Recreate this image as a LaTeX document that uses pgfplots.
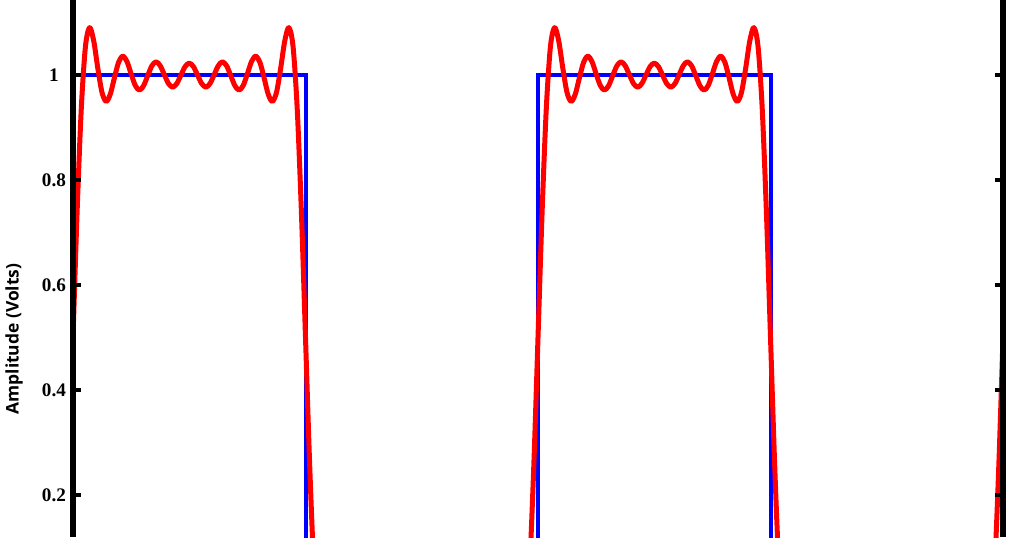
\documentclass[border=0pt]{standalone}
\usepackage{fontspec}
\usepackage{pgfplots}
\pgfplotsset{compat=1.18}
\newfontfamily\labelfont{Open Sans}
\newfontfamily\tickfont{Liberation Serif}

\begin{document}
\begin{tikzpicture}
\useasboundingbox (-36.5pt,0pt) rectangle (474.5pt,268.5pt);
\begin{axis}[
  scale only axis, width=465pt, height=268.5pt,
  at={(0,0)}, anchor=south west,
  xmin=0, xmax=224, ymin=0.12, ymax=1.142857,
  axis x line=none, axis y line=box,
  xtick=\empty,
  ytick={0.2,0.4,0.6,0.8,1},
  yticklabels={0.2,0.4,0.6,0.8,1},
  yticklabel style={font=\tickfont\bfseries\fontsize{9.6}{11}\selectfont, anchor=center, xshift=-9.5pt},
  axis line style={line width=3pt, black},
  major tick length=4pt,
  tick style={line width=2pt, black},
  axis on top,
  ylabel={Amplitude (Volts)},
  every axis y label/.style={at={(axis description cs:-0.06344,0.36872)}, rotate=90, anchor=center, font=\labelfont\bfseries\fontsize{8.7}{10}\selectfont},
]
% ideal square wave
\addplot[blue, line width=2pt, line join=miter] coordinates {
 (0,1) (56,1) (56,0) (112,0) (112,1) (168,1) (168,0) (224,0)
};
% partial Fourier sum, harmonics 1..13 (x in steps of T/112)
\addplot[red, line width=2.5pt, smooth, line join=round] coordinates {
 (0,0.5000) (1,0.7416) (2,0.9366) (3,1.0544) (4,1.0903) (5,1.0645) (6,1.0117) (7,0.9663)
 (8,0.9497) (9,0.9639) (10,0.9955) (11,1.0246) (12,1.0358) (13,1.0256) (14,1.0022) (15,0.9800)
 (16,0.9712) (17,0.9795) (18,0.9988) (19,1.0175) (20,1.0251) (21,1.0178) (22,1.0006) (23,0.9837)
 (24,0.9768) (25,0.9836) (26,0.9998) (27,1.0160) (28,1.0226) (29,1.0160) (30,0.9998) (31,0.9836)
 (32,0.9768) (33,0.9837) (34,1.0006) (35,1.0178) (36,1.0251) (37,1.0175) (38,0.9988) (39,0.9795)
 (40,0.9712) (41,0.9800) (42,1.0022) (43,1.0256) (44,1.0358) (45,1.0246) (46,0.9955) (47,0.9639)
 (48,0.9497) (49,0.9663) (50,1.0117) (51,1.0645) (52,1.0903) (53,1.0544) (54,0.9366) (55,0.7416)
 (56,0.5000) (57,0.2584) (58,0.0634) (59,-0.0544) (60,-0.0903) (61,-0.0645) (62,-0.0117) (63,0.0337)
 (64,0.0503) (65,0.0361) (66,0.0045) (67,-0.0246) (68,-0.0358) (69,-0.0256) (70,-0.0022) (71,0.0200)
 (72,0.0288) (73,0.0205) (74,0.0012) (75,-0.0175) (76,-0.0251) (77,-0.0178) (78,-0.0006) (79,0.0163)
 (80,0.0232) (81,0.0164) (82,0.0002) (83,-0.0160) (84,-0.0226) (85,-0.0160) (86,0.0002) (87,0.0164)
 (88,0.0232) (89,0.0163) (90,-0.0006) (91,-0.0178) (92,-0.0251) (93,-0.0175) (94,0.0012) (95,0.0205)
 (96,0.0288) (97,0.0200) (98,-0.0022) (99,-0.0256) (100,-0.0358) (101,-0.0246) (102,0.0045) (103,0.0361)
 (104,0.0503) (105,0.0337) (106,-0.0117) (107,-0.0645) (108,-0.0903) (109,-0.0544) (110,0.0634) (111,0.2584)
 (112,0.5000) (113,0.7416) (114,0.9366) (115,1.0544) (116,1.0903) (117,1.0645) (118,1.0117) (119,0.9663)
 (120,0.9497) (121,0.9639) (122,0.9955) (123,1.0246) (124,1.0358) (125,1.0256) (126,1.0022) (127,0.9800)
 (128,0.9712) (129,0.9795) (130,0.9988) (131,1.0175) (132,1.0251) (133,1.0178) (134,1.0006) (135,0.9837)
 (136,0.9768) (137,0.9836) (138,0.9998) (139,1.0160) (140,1.0226) (141,1.0160) (142,0.9998) (143,0.9836)
 (144,0.9768) (145,0.9837) (146,1.0006) (147,1.0178) (148,1.0251) (149,1.0175) (150,0.9988) (151,0.9795)
 (152,0.9712) (153,0.9800) (154,1.0022) (155,1.0256) (156,1.0358) (157,1.0246) (158,0.9955) (159,0.9639)
 (160,0.9497) (161,0.9663) (162,1.0117) (163,1.0645) (164,1.0903) (165,1.0544) (166,0.9366) (167,0.7416)
 (168,0.5000) (169,0.2584) (170,0.0634) (171,-0.0544) (172,-0.0903) (173,-0.0645) (174,-0.0117) (175,0.0337)
 (176,0.0503) (177,0.0361) (178,0.0045) (179,-0.0246) (180,-0.0358) (181,-0.0256) (182,-0.0022) (183,0.0200)
 (184,0.0288) (185,0.0205) (186,0.0012) (187,-0.0175) (188,-0.0251) (189,-0.0178) (190,-0.0006) (191,0.0163)
 (192,0.0232) (193,0.0164) (194,0.0002) (195,-0.0160) (196,-0.0226) (197,-0.0160) (198,0.0002) (199,0.0164)
 (200,0.0232) (201,0.0163) (202,-0.0006) (203,-0.0178) (204,-0.0251) (205,-0.0175) (206,0.0012) (207,0.0205)
 (208,0.0288) (209,0.0200) (210,-0.0022) (211,-0.0256) (212,-0.0358) (213,-0.0246) (214,0.0045) (215,0.0361)
 (216,0.0503) (217,0.0337) (218,-0.0117) (219,-0.0645) (220,-0.0903) (221,-0.0544) (222,0.0634) (223,0.2584)
 (224,0.5000)
};
\end{axis}
\end{tikzpicture}
\end{document}
